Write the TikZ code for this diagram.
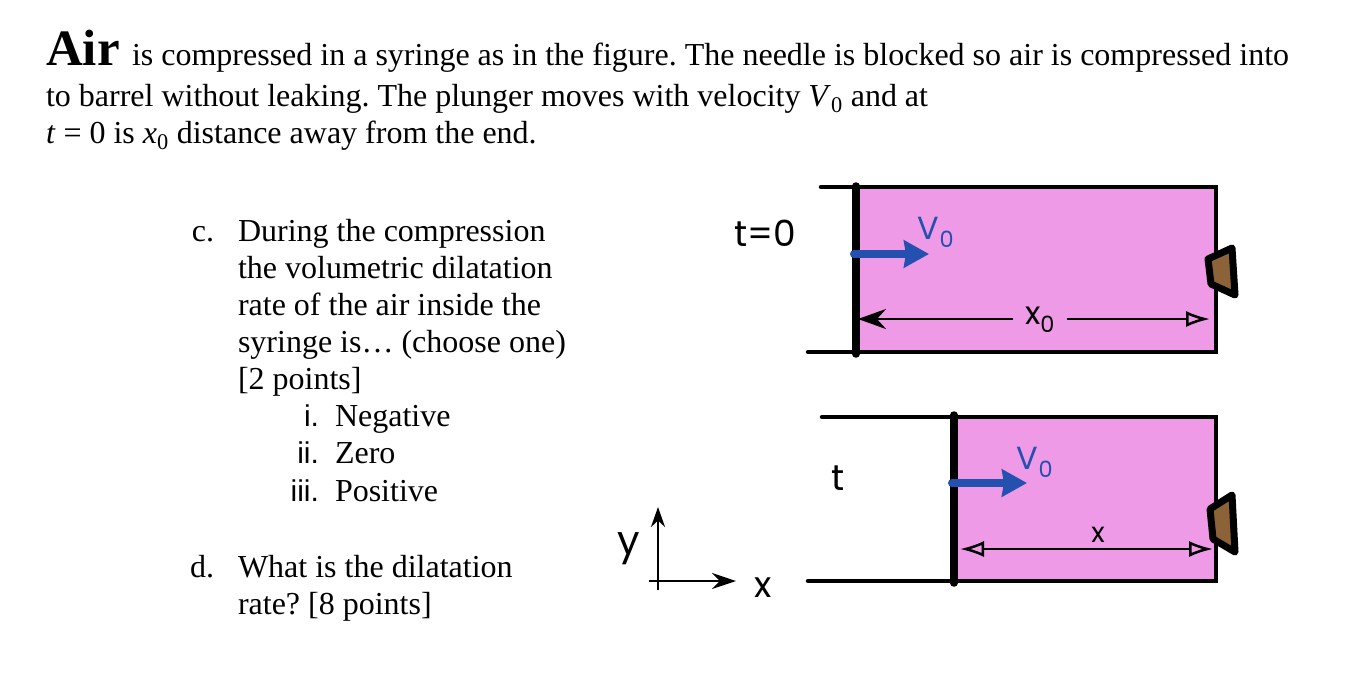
\documentclass[tikz,border=0pt]{standalone}
\usepackage{fontspec}
\setmainfont{Liberation Serif}
\setsansfont{Liberation Sans}
\newfontfamily\handfont{Poppins}
\usetikzlibrary{arrows.meta}
\definecolor{airpink}{HTML}{EF9AE6}
\definecolor{plugblue}{HTML}{2450B0}
\definecolor{plugbrown}{HTML}{8C6239}
\frenchspacing
\tikzset{
 body/.style={anchor=base west,inner sep=0pt,outer sep=0pt,font=\fontsize{32}{36}\selectfont},
 numeral/.style={anchor=base east,inner sep=0pt,outer sep=0pt,font=\sffamily\fontsize{30}{36}\selectfont},
 hand/.style={inner sep=0pt,outer sep=6pt,font=\handfont\fontsize{32}{36}\selectfont},
 wall/.style={line width=4.5pt,line cap=round},
 plunger/.style={line width=7.5pt,line cap=round},
 push/.style={plugblue,line width=8pt,line cap=round,-{Stealth[length=25pt,width=27pt,inset=2pt]}},
 span/.style={line width=2.5pt,-{Latex[open,length=24pt,width=16pt]}},
 stopper/.style={fill=plugbrown,draw=black,line width=7pt,line join=round}
}
\begin{document}
\begin{tikzpicture}[x=1pt,y=-1pt]
\useasboundingbox (0,0) rectangle (1370,686);
% question text
\node[body] (air) at (46,65) {\fontsize{51}{51}\selectfont\bfseries Air};
\node[body] (line1) at (132,65) {is compressed in a syringe as in the figure. The needle is blocked so air is compressed into};
\node[body] (line2) at (46,106) {to barrel without leaking. The plunger moves with velocity \textit{V}\textsubscript{0} and at};
\node[body] (line3) at (46,143) {\textit{t} = 0 is \textit{x}\textsubscript{0} distance away from the end.};
\node[body,anchor=base east] (cmark) at (214,241) {c.};
\foreach \t[count=\i from 0] in {
 During the compression,
 the volumetric dilatation,
 rate of the air inside the,
 syringe is\dots\ (choose one),
 {[2 points]}
}
\node[body] (c\i) at (238,241+37*\i) {\t};
\foreach \n/\t[count=\i from 0] in {i./Negative,ii./Zero,iii./Positive}{
\node[numeral] (n\i) at (319,426+37.5*\i) {\n};
\node[body] (m\i) at (335,426+37.5*\i) {\t};
}
\node[body,anchor=base east] (dmark) at (214,577) {d.};
\node[body] (d0) at (238,577) {What is the dilatation};
\node[body] (d1) at (238,614) {rate? [8 points]};
% first syringe
\fill[airpink] (856,187) rectangle (1216,352);
\coordinate (atop) at (821,187);
\coordinate (abot) at (808,352);
\coordinate (artop) at (1216,187);
\coordinate (arbot) at (1216,352);
\draw[wall] (atop) -- (artop) -- (arbot) -- (abot);
\coordinate (ap1) at (856,186);
\coordinate (ap2) at (856,354);
\draw[plunger] (ap1) -- (ap2);
\coordinate (av1) at (854,254);
\coordinate (av2) at (929,254);
\draw[push] (av1) -- (av2);
\node[hand,plugblue] (av) at (936,232) {V\textsubscript{0}};
\node[hand,font=\handfont\fontsize{36}{36}\selectfont] (at) at (765,233) {t=0};
\node[hand,outer sep=12pt] (ax) at (1040,320) {x\textsubscript{0}};
\coordinate (ax1) at (858,319);
\coordinate (ax2) at (1210,319);
\draw[span,-{Stealth[length=28pt,width=20pt]}] (ax.west |- ax1) -- (ax1);
\draw[span] (ax.east |- ax2) -- (ax2);
\draw[stopper] (1208,259) -- (1232,248) -- (1235,295) -- (1211,284) -- cycle;
% second syringe
\fill[airpink] (954,417) rectangle (1216,581);
\coordinate (btop) at (822,417);
\coordinate (bbot) at (808,581);
\coordinate (brtop) at (1216,417);
\coordinate (brbot) at (1216,581);
\draw[wall] (btop) -- (brtop) -- (brbot) -- (bbot);
\coordinate (bp1) at (954,415);
\coordinate (bp2) at (954,583);
\draw[plunger] (bp1) -- (bp2);
\coordinate (bv1) at (952,483);
\coordinate (bv2) at (1027,483);
\draw[push] (bv1) -- (bv2);
\node[hand,plugblue] (bv) at (1035,462) {V\textsubscript{0}};
\node[hand,font=\handfont\fontsize{36}{36}\selectfont] (bt) at (838,478) {t};
\node[hand,font=\handfont\fontsize{28}{30}\selectfont] (bx) at (1098,535) {x};
\coordinate (bx1) at (960,549);
\coordinate (bx2) at (1213,549);
\draw[span,{Latex[open,length=24pt,width=16pt]}-{Latex[open,length=24pt,width=16pt]}] (bx1) -- (bx2);
\draw[stopper] (1210,509) -- (1232,495) -- (1235,552) -- (1213,539) -- cycle;
% axes
\coordinate (oy) at (658,590);
\coordinate (ty) at (658,507);
\coordinate (ox) at (649,581);
\coordinate (tx) at (736,581);
\draw[line width=2.5pt,-{Stealth[length=20pt,width=14pt]}] (oy) -- (ty);
\draw[line width=2.5pt,-{Stealth[length=24pt,width=16pt]}] (ox) -- (tx);
\node[hand,font=\handfont\fontsize{40}{40}\selectfont] (ylab) at (629,549) {y};
\node[hand,font=\handfont\fontsize{36}{36}\selectfont] (xlab) at (763,588) {x};
\end{tikzpicture}
\end{document}
